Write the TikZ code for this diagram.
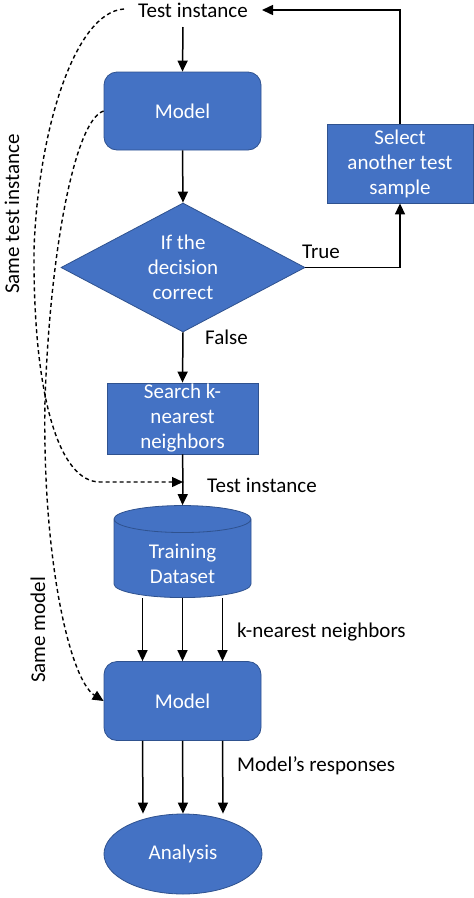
\documentclass[tikz,border=0pt]{standalone}
\usepackage{fontspec}
\setmainfont{Carlito}
\usetikzlibrary{shapes.geometric,arrows.meta}
\definecolor{boxblue}{HTML}{4472C4}
\definecolor{boxedge}{HTML}{2F528F}
\begin{document}
\begin{tikzpicture}[x=1pt,y=-1pt,
  font=\fontsize{21}{25}\selectfont,
  blk/.style={draw=boxedge, line width=0.8pt, fill=boxblue, text=white, align=center, inner sep=0pt},
  arr/.style={line width=1.5pt, -{Triangle[length=11pt,width=10pt]}},
  dsh/.style={line width=1.4pt, dash pattern=on 4pt off 3pt, -{Triangle[length=11pt,width=10pt]}},
  lbl/.style={text=black, inner sep=0pt}]
\useasboundingbox (0,0) rectangle (474,898);

% nodes
\node[lbl] (ti1) at (193,10) {Test instance};
\node[blk, rounded corners=13pt, minimum width=157pt, minimum height=78pt] (m1) at (182.5,111) {Model};
\node[blk, diamond, minimum width=244pt, minimum height=129pt] (dec) at (183,267.5) {};
\node[text=white, align=center, inner sep=0pt] (dect) at (dec.center) {If the\\decision\\correct};
\node[blk, minimum width=146pt, minimum height=79pt] (sel) at (400,163.5) {Select\\another test\\sample};
\node[blk, minimum width=151pt, minimum height=71pt] (srch) at (182.5,418.5) {Search k-\\nearest\\neighbors};
\node[blk, cylinder, shape border rotate=90, aspect=0.4, minimum width=137pt, minimum height=87pt] (db) at (182.5,558.5) {\rule{0pt}{26pt}Training\\Dataset};
\node[blk, rounded corners=13pt, minimum width=157pt, minimum height=79pt] (m2) at (182.5,701) {Model};
\node[blk, ellipse, minimum width=158pt, minimum height=80pt] (ana) at (183,854) {Analysis};

% labels
\node[lbl, anchor=west] (ltrue) at (302,252) {True};
\node[lbl, anchor=west] (lfalse) at (205,337) {False};
\node[lbl, anchor=west] (ti2) at (207,485) {Test instance};
\node[lbl, anchor=west] (lknn) at (237,632) {k-nearest neighbors};
\node[lbl, anchor=west] (lresp) at (237,766) {Model’s responses};
\node[lbl, rotate=90] (lsti) at (12,214) {Same test instance};
\node[lbl, rotate=90] (lsm) at (38,630) {Same model};

\coordinate (tistart) at (183,27);
\coordinate (mid) at (183,482);
\coordinate (astart) at (124,9);

% connectors
\draw[arr] (tistart) -- (m1.north);
\draw[arr] (m1.south) -- (dec.north);
\draw[arr] (dec.east) -- (sel.south |- dec.east) -- (sel.south);
\draw[arr, shorten >=14pt] (sel.north) -- (sel.north |- ti1.east) -- (ti1.east);
\draw[arr] (dec.south) -- (srch.north);
\draw[line width=1.5pt] (srch.south) -- (mid);
\draw[arr] (mid) -- (db.north);
\foreach \dx in {-40,0,40} {
  \draw[arr] ([xshift=\dx pt]db.south) -- ([xshift=\dx pt]m2.north);
  \draw[arr] ([xshift=\dx pt]m2.south) -- ([xshift=\dx pt]ana.north);
}
\draw[dsh] (astart) .. controls (75,12) and (38,130) .. (34,250)
  .. controls (33,400) and (60,482) .. (100,482) -- (mid);
\draw[dsh] (m1.west) .. controls (75,120) and (50,250) .. (45,400)
  .. controls (42,560) and (70,680) .. (m2.west);
\end{tikzpicture}
\end{document}
